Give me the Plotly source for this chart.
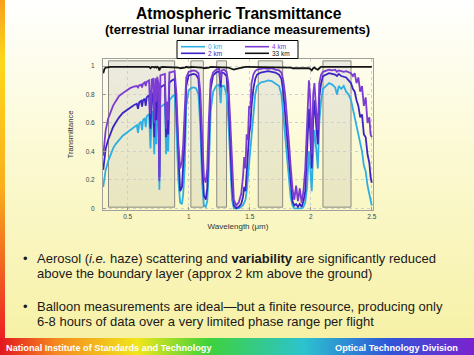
import base64
import plotly.graph_objects as go

# ---------------- data ----------------
wavelength = [
    0.300, 0.310, 0.320, 0.340, 0.360, 0.380, 0.400, 0.430, 0.460, 0.490,
    0.520, 0.550, 0.575, 0.585, 0.595, 0.610, 0.618, 0.626, 0.640, 0.648,
    0.656, 0.675, 0.687, 0.697, 0.708, 0.718, 0.726, 0.735, 0.742, 0.752,
    0.760, 0.768, 0.785, 0.805, 0.815, 0.825, 0.832, 0.842, 0.865, 0.885,
    0.900, 0.915, 0.930, 0.945, 0.955, 0.968, 0.980, 1.000, 1.020, 1.040,
    1.060, 1.080, 1.095, 1.110, 1.125, 1.140, 1.152, 1.165, 1.180, 1.200,
    1.225, 1.250, 1.262, 1.270, 1.290, 1.310, 1.325, 1.340, 1.355, 1.370,
    1.390, 1.410, 1.430, 1.445, 1.455, 1.465, 1.475, 1.485, 1.495, 1.505,
    1.515, 1.530, 1.545, 1.560, 1.590, 1.620, 1.650, 1.680, 1.710, 1.740,
    1.760, 1.775, 1.790, 1.805, 1.820, 1.835, 1.850, 1.865, 1.880, 1.895,
    1.910, 1.925, 1.940, 1.955, 1.970, 1.985, 1.995, 2.008, 2.020, 2.030,
    2.045, 2.058, 2.070, 2.085, 2.100, 2.125, 2.150, 2.175, 2.200, 2.215,
    2.230, 2.250, 2.270, 2.290, 2.310, 2.330, 2.345, 2.360, 2.375, 2.390,
    2.405, 2.420, 2.435, 2.450, 2.465, 2.480, 2.490, 2.500,
]

t_0km = [
    0.15, 0.22, 0.27, 0.33, 0.38, 0.42, 0.45, 0.48, 0.51, 0.53,
    0.55, 0.57, 0.585, 0.53, 0.595, 0.61, 0.55, 0.62, 0.635, 0.57,
    0.645, 0.665, 0.42, 0.675, 0.68, 0.38, 0.69, 0.45, 0.70, 0.65,
    0.13, 0.71, 0.72, 0.735, 0.38, 0.55, 0.40, 0.76, 0.785, 0.80,
    0.55, 0.20, 0.04, 0.03, 0.10, 0.30, 0.72, 0.83, 0.845, 0.85,
    0.845, 0.80, 0.58, 0.18, 0.02, 0.01, 0.05, 0.28, 0.68, 0.82,
    0.86, 0.87, 0.74, 0.86, 0.86, 0.80, 0.62, 0.28, 0.06, 0.0,
    0.0, 0.0, 0.01, 0.02, 0.04, 0.06, 0.12, 0.22, 0.34, 0.40,
    0.55, 0.68, 0.80, 0.86, 0.885, 0.89, 0.90, 0.895, 0.88, 0.86,
    0.80, 0.66, 0.50, 0.36, 0.20, 0.08, 0.02, 0.0, 0.0, 0.0,
    0.0, 0.0, 0.01, 0.04, 0.15, 0.40, 0.30, 0.12, 0.40, 0.55,
    0.42, 0.28, 0.60, 0.76, 0.84, 0.86, 0.88, 0.87, 0.85, 0.80,
    0.86, 0.84, 0.86, 0.82, 0.80, 0.76, 0.70, 0.64, 0.58, 0.52,
    0.44, 0.40, 0.30, 0.26, 0.16, 0.10, 0.05, 0.02,
]

t_2km = [
    0.27, 0.36, 0.42, 0.48, 0.53, 0.57, 0.60, 0.64, 0.67, 0.69,
    0.71, 0.725, 0.735, 0.70, 0.745, 0.755, 0.715, 0.76, 0.77, 0.72,
    0.78, 0.795, 0.56, 0.805, 0.81, 0.50, 0.82, 0.62, 0.83, 0.78,
    0.22, 0.85, 0.86, 0.87, 0.50, 0.68, 0.52, 0.885, 0.90, 0.91,
    0.70, 0.36, 0.12, 0.15, 0.28, 0.50, 0.86, 0.935, 0.94, 0.945,
    0.94, 0.91, 0.72, 0.32, 0.09, 0.06, 0.14, 0.48, 0.84, 0.935,
    0.955, 0.965, 0.85, 0.955, 0.95, 0.93, 0.80, 0.48, 0.15, 0.02,
    0.0, 0.01, 0.03, 0.08, 0.15, 0.12, 0.30, 0.38, 0.52, 0.58,
    0.72, 0.84, 0.91, 0.94, 0.955, 0.96, 0.965, 0.96, 0.955, 0.94,
    0.91, 0.82, 0.66, 0.52, 0.34, 0.16, 0.05, 0.02, 0.03, 0.01,
    0.03, 0.01, 0.05, 0.12, 0.38, 0.70, 0.55, 0.28, 0.62, 0.76,
    0.58, 0.45, 0.78, 0.88, 0.93, 0.94, 0.95, 0.945, 0.94, 0.93,
    0.945, 0.93, 0.925, 0.92, 0.90, 0.88, 0.84, 0.82, 0.76, 0.72,
    0.64, 0.66, 0.52, 0.50, 0.38, 0.32, 0.22, 0.18,
]

t_4km = [
    0.37, 0.48, 0.55, 0.63, 0.68, 0.72, 0.75, 0.79, 0.81, 0.83,
    0.845, 0.855, 0.86, 0.85, 0.865, 0.87, 0.85, 0.875, 0.885, 0.86,
    0.89, 0.90, 0.66, 0.905, 0.91, 0.60, 0.915, 0.75, 0.925, 0.88,
    0.19, 0.935, 0.94, 0.945, 0.56, 0.75, 0.62, 0.955, 0.96, 0.965,
    0.80, 0.46, 0.28, 0.33, 0.45, 0.65, 0.92, 0.96, 0.965, 0.97,
    0.965, 0.95, 0.82, 0.45, 0.22, 0.18, 0.28, 0.62, 0.90, 0.955,
    0.975, 0.98, 0.90, 0.97, 0.975, 0.96, 0.88, 0.62, 0.28, 0.06,
    0.02, 0.04, 0.10, 0.22, 0.36, 0.28, 0.52, 0.48, 0.72, 0.70,
    0.88, 0.94, 0.965, 0.975, 0.98, 0.985, 0.98, 0.985, 0.975, 0.97,
    0.955, 0.90, 0.80, 0.66, 0.48, 0.30, 0.14, 0.06, 0.16, 0.05,
    0.14, 0.04, 0.12, 0.28, 0.62, 0.90, 0.78, 0.38, 0.80, 0.88,
    0.68, 0.55, 0.88, 0.94, 0.96, 0.97, 0.975, 0.97, 0.975, 0.96,
    0.97, 0.965, 0.96, 0.965, 0.955, 0.95, 0.93, 0.95, 0.88, 0.92,
    0.82, 0.86, 0.72, 0.78, 0.60, 0.64, 0.52, 0.50,
]

t_33km = [
    0.95, 0.98, 0.99, 0.995, 0.995, 0.995, 0.995, 0.995, 0.995, 0.995,
    0.995, 0.995, 0.995, 0.995, 0.995, 0.995, 0.995, 0.995, 0.995, 0.995,
    0.995, 0.995, 0.985, 0.995, 0.995, 0.99, 0.995, 0.99, 0.995, 0.99,
    0.97, 0.99, 0.995, 0.995, 0.99, 0.99, 0.99, 0.995, 0.995, 0.995,
    0.99, 0.99, 0.985, 0.985, 0.99, 0.99, 0.995, 0.99, 0.995, 0.995,
    0.995, 0.995, 0.99, 0.99, 0.985, 0.985, 0.985, 0.99, 0.995, 0.995,
    0.995, 0.995, 0.995, 0.995, 0.995, 0.99, 0.99, 0.985, 0.98, 0.975,
    0.98, 0.985, 0.99, 0.99, 0.995, 0.995, 0.995, 0.995, 0.995, 0.995,
    0.995, 0.995, 0.995, 0.995, 0.995, 0.995, 0.995, 0.995, 0.995, 0.995,
    0.995, 0.995, 0.995, 0.99, 0.99, 0.99, 0.985, 0.985, 0.985, 0.985,
    0.985, 0.985, 0.99, 0.99, 0.99, 0.985, 0.98, 0.97, 0.985, 0.99,
    0.98, 0.975, 0.985, 0.995, 0.995, 0.995, 0.995, 0.995, 0.995, 0.995,
    0.995, 0.995, 0.995, 0.995, 0.995, 0.995, 0.995, 0.995, 0.995, 0.995,
    0.995, 0.995, 0.995, 0.995, 0.995, 0.995, 0.995, 0.995,
]

series_names = ["0 km", "2 km", "4 km", "33 km"]
series_colors = ["#2eaee2", "#3a24c6", "#7c3bd3", "#141414"]

window_start = [0.343, 1.018, 1.230, 1.570, 2.100]
window_end = [0.885, 1.120, 1.310, 1.770, 2.330]
window_bottom = 0.008
window_top = 1.037

x_ticks = [0.5, 1, 1.5, 2, 2.5]
x_ticktext = ["0.5", "1", "1.5", "2", "2.5"]
y_ticks = [0, 0.2, 0.4, 0.6, 0.8, 1]
y_ticktext = ["0", "0.2", "0.4", "0.6", "0.8", "1"]

title_text = "Atmospheric Transmittance"
subtitle_text = "(terrestrial lunar irradiance measurements)"
bullet_lines = [
    "Aerosol (<i>i.e.</i> haze) scattering and <b>variability</b> are significantly reduced",
    "above the boundary layer (approx 2 km above the ground)",
    "Balloon measurements are ideal\u2014but a finite resource, producing only",
    "6-8 hours of data over a very limited phase range per flight",
]
footer_left = "National Institute of Standards and Technology"
footer_right = "Optical Technology Division"

# ---------------- layout geometry ----------------
W, H = 474, 355
L, R, T, B = 103, 101, 59, 145
PW = W - L - R
PH = H - T - B
FONT = "Liberation Sans, Arial, sans-serif"


def px(x):
    return (x - L) / PW


def py(y):
    return (H - B - y) / PH


svg = f'''<svg xmlns="http://www.w3.org/2000/svg" width="{W}" height="{H}" viewBox="0 0 {W} {H}" preserveAspectRatio="none">
<defs>
<linearGradient id="bg" x1="0" y1="0" x2="0" y2="1">
<stop offset="0" stop-color="#ffffff"/><stop offset="0.4" stop-color="#fcfad6"/><stop offset="1" stop-color="#f6f0a2"/>
</linearGradient>
<linearGradient id="lb" x1="0" y1="0" x2="0" y2="1">
<stop offset="0" stop-color="#f7a01e"/><stop offset="0.18" stop-color="#fdd81a"/><stop offset="0.55" stop-color="#f9b01c"/><stop offset="1" stop-color="#ec2024"/>
</linearGradient>
<linearGradient id="bb" x1="0" y1="0" x2="1" y2="0">
<stop offset="0" stop-color="#e3161f"/><stop offset="0.12" stop-color="#f58a1f"/><stop offset="0.29" stop-color="#f1e61b"/><stop offset="0.44" stop-color="#3fd23b"/><stop offset="0.64" stop-color="#2cc3cf"/><stop offset="0.82" stop-color="#2f56d8"/><stop offset="1" stop-color="#7b22cf"/>
</linearGradient>
</defs>
<rect width="{W}" height="{H}" fill="url(#bg)"/>
<rect x="0" y="0" width="5" height="338" fill="url(#lb)"/>
<rect x="0" y="338" width="{W}" height="17" fill="url(#bb)"/>
</svg>'''
bg_src = "data:image/svg+xml;base64," + base64.b64encode(svg.encode()).decode()

fig = go.Figure()

for name, color, vals in zip(series_names, series_colors, [t_0km, t_2km, t_4km, t_33km]):
    fig.add_trace(go.Scatter(
        x=wavelength, y=vals, mode="lines", name=name,
        line=dict(color=color, width=1.8), showlegend=False,
    ))

shapes = []
for x0, x1 in zip(window_start, window_end):
    shapes.append(dict(type="rect", xref="x", yref="y", x0=x0, x1=x1,
                       y0=window_bottom, y1=window_top, layer="below",
                       fillcolor="rgba(150,150,160,0.17)",
                       line=dict(color="#8a8a82", width=1)))

# legend box (two columns)
shapes.append(dict(type="rect", xref="paper", yref="paper",
                   x0=px(177), x1=px(298), y0=py(58.5), y1=py(40.5),
                   fillcolor="white", line=dict(color="black", width=1), layer="above"))
legend_pos = [(181, 46.7), (181, 53.3), (245, 46.7), (245, 53.3)]
annotations = []
for (lx, ly), name, color in zip(legend_pos, series_names, series_colors):
    shapes.append(dict(type="line", xref="paper", yref="paper",
                       x0=px(lx), x1=px(lx + 24), y0=py(ly), y1=py(ly),
                       line=dict(color=color, width=1.6), layer="above"))
    annotations.append(dict(text=name, xref="paper", yref="paper",
                            x=px(lx + 25), y=py(ly), xanchor="left", yanchor="middle",
                            showarrow=False, font=dict(size=6.5, color=color, family=FONT)))

annotations += [
    dict(text=f"<b>{title_text}</b>", xref="paper", yref="paper", x=px(238.5), y=py(13.5),
         xanchor="center", yanchor="middle", showarrow=False,
         font=dict(size=15.6, color="black", family=FONT)),
    dict(text=f"<b>{subtitle_text}</b>", xref="paper", yref="paper", x=px(237.5), y=py(29.5),
         xanchor="center", yanchor="middle", showarrow=False,
         font=dict(size=13, color="black", family=FONT)),
]

for i, (line, ly) in enumerate(zip(bullet_lines, [258.5, 273.5, 306, 321])):
    if i in (0, 2):
        annotations.append(dict(text="\u2022", xref="paper", yref="paper", x=px(25), y=py(ly),
                                xanchor="center", yanchor="middle", showarrow=False,
                                font=dict(size=13, color="#1a1a1a", family=FONT)))
    annotations.append(dict(text=line, xref="paper", yref="paper", x=px(35), y=py(ly),
                            xanchor="left", yanchor="middle", showarrow=False,
                            font=dict(size=13, color="#1a1a1a", family=FONT)))

annotations += [
    dict(text=f"<b>{footer_left}</b>", xref="paper", yref="paper", x=px(3.5), y=py(347.5),
         xanchor="left", yanchor="middle", showarrow=False,
         font=dict(size=9.2, color="white", family=FONT)),
    dict(text=f"<b>{footer_right}</b>", xref="paper", yref="paper", x=px(459.5), y=py(347.5),
         xanchor="right", yanchor="middle", showarrow=False,
         font=dict(size=9.2, color="white", family=FONT)),
]

fig.update_layout(
    width=W, height=H,
    margin=dict(l=L, r=R, t=T, b=B, autoexpand=False),
    paper_bgcolor="rgba(0,0,0,0)",
    plot_bgcolor="rgba(0,0,0,0)",
    showlegend=False,
    shapes=shapes,
    annotations=annotations,
    images=[dict(source=bg_src, xref="paper", yref="paper", x=px(0), y=py(0),
                 sizex=W / PW, sizey=H / PH, xanchor="left", yanchor="top",
                 sizing="stretch", layer="below")],
    xaxis=dict(range=[0.298, 2.51], tickvals=x_ticks, ticktext=x_ticktext,
               showgrid=True, gridcolor="#cfcfcf", griddash="dot", gridwidth=1,
               zeroline=False, showline=True, linecolor="#a0a0a0", linewidth=1, mirror=True,
               ticks="inside", ticklen=3, tickcolor="#999",
               tickfont=dict(size=6.5, color="#444", family=FONT),
               title=dict(text="Wavelength (\u03bcm)", font=dict(size=8, color="#333", family=FONT),
                          standoff=4)),
    yaxis=dict(range=[-0.012, 1.05], tickvals=y_ticks, ticktext=y_ticktext,
               showgrid=True, gridcolor="#cfcfcf", griddash="dot", gridwidth=1,
               zeroline=False, showline=True, linecolor="#a0a0a0", linewidth=1, mirror=True,
               ticks="inside", ticklen=3, tickcolor="#999", ticklabelstandoff=6,
               tickfont=dict(size=6.5, color="#444", family=FONT),
               title=dict(text="Transmittance", font=dict(size=7.6, color="#333", family=FONT),
                          standoff=10)),
)

fig.write_html(
    "out.html",
    config={"displayModeBar": False},
    post_script="document.body.style.margin='0';document.body.style.padding='0';",
)
